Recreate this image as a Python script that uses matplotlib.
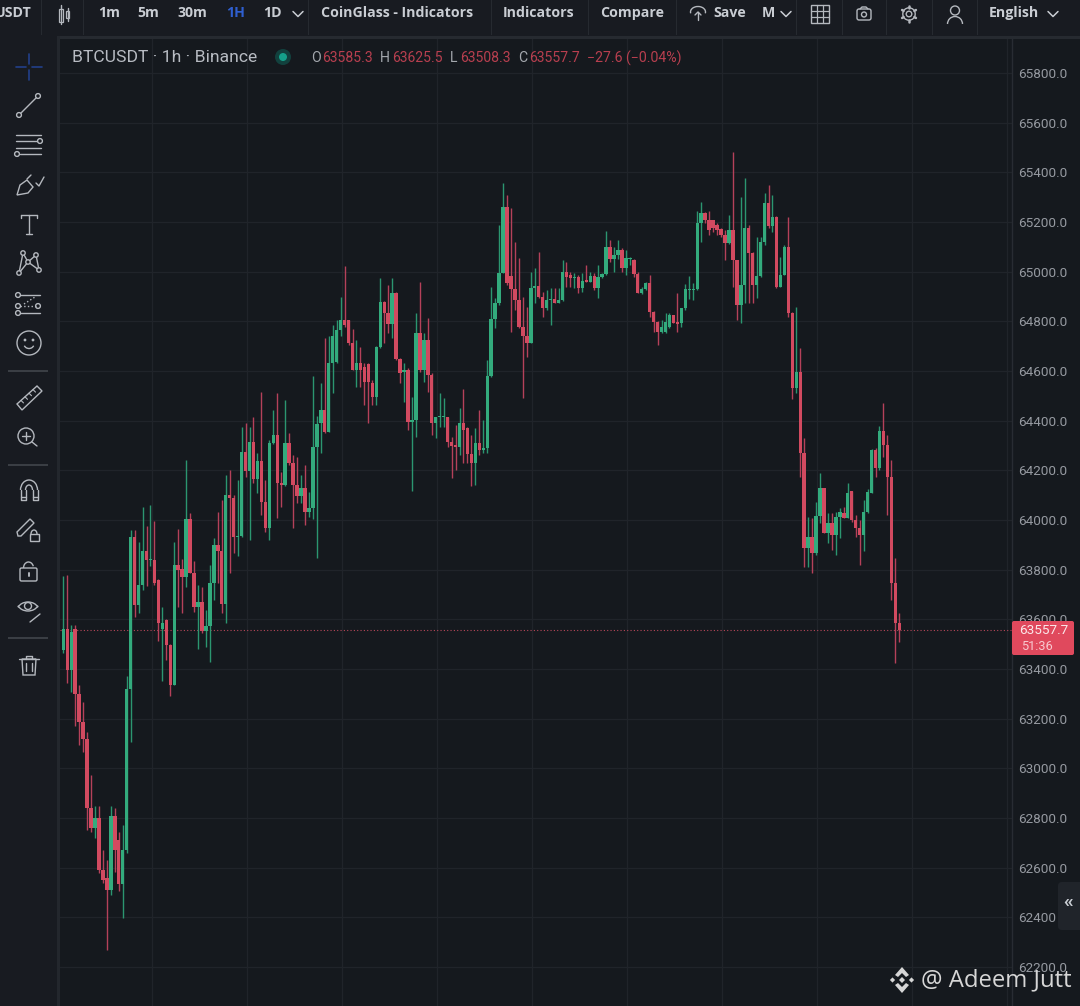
import numpy as np
import matplotlib
matplotlib.use("Agg")
import matplotlib.pyplot as plt
from matplotlib.patches import Rectangle, Circle, Polygon, Arc, FancyBboxPatch

opens = [63477,63560,63396,63560,63300,63188,63117,62839,62759,62799,
 62591,62560,62511,62808,62712,62535,62672,63319,63933,63658,
 63739,63876,63837,63839,63759,63560,63598,63497,63336,63817,
 63803,63772,64006,63786,63651,63668,63555,63575,63745,63900,
 63876,63661,64101,64088,63931,63936,64273,64199,64316,64164,
 64239,64074,63967,64309,64343,64148,64141,64309,64229,64141,
 64097,64128,64034,64047,64296,64390,64443,64356,64634,64638,
 64765,64806,64806,64712,64604,64634,64618,64627,64551,64497,
 64698,64879,64832,64790,64916,64647,64598,64604,64396,64403,
 64752,64604,64725,64584,64390,64414,64414,64414,64316,64302,
 64293,64390,64369,64266,64229,64309,64282,64289,64578,64810,
 64873,64996,65259,64983,64929,64886,64779,64743,64712,64933,
 64943,64897,64853,64885,64888,64872,64886,65000,64986,64973,
 64980,64933,64964,64960,64982,64933,64977,64990,65098,65050,
 65067,65087,65013,65050,65047,64990,64913,64929,64953,64839,
 64799,64758,64758,64778,64825,64792,64792,64852,64925,64925,
 64929,65195,65237,65208,65208,65188,65170,65148,65114,65168,
 65047,64866,64946,65174,65076,64946,64982,65121,65275,65184,
 65221,64940,64986,65101,64832,64530,64597,64269,63886,63933,
 63866,64016,64128,63949,63987,63940,64014,64027,64007,64118,
 64000,63967,63940,64034,64110,64282,64208,64360,64302,64175,
 63745,63585.3]
highs = [63775,63779,63578,63578,63336,63269,63148,62974,62849,62849,
 62672,62631,62849,62839,62745,62772,63370,63960,63960,63913,
 64051,63974,64061,63996,63761,63651,63600,63500,63913,63963,
 63842,64242,64027,63833,63739,63732,63638,63819,63927,64034,
 64081,64182,64202,64101,64161,64373,64390,64374,64415,64269,
 64515,64161,64322,64443,64511,64195,64483,64349,64262,64255,
 64182,64222,64114,64578,64420,64551,64732,64739,64786,64806,
 64900,65023,64806,64768,64725,64698,64631,64631,64564,64701,
 64973,64882,64947,64973,64920,64651,64631,64611,64497,64832,
 64960,64752,64812,64591,64416,64510,64490,64416,64336,64383,
 64450,64527,64376,64343,64370,64443,64403,64645,64940,64893,
 65188,65356,65309,65255,65121,65054,64900,64859,65000,65014,
 65081,64920,64926,64933,64933,64933,65047,65040,65000,64993,
 64986,64993,65027,65000,64993,65027,64993,65165,65127,65101,
 65127,65094,65087,65060,65050,65000,64940,64960,64986,64842,
 64803,64805,64832,64832,64825,64913,64852,64950,64982,64953,
 65245,65282,65241,65245,65208,65195,65174,65168,65228,65483,
 65047,65302,65376,65188,65080,65141,65141,65315,65349,65309,
 65224,65060,65107,65221,64839,64859,64691,64329,64014,64007,
 64074,64191,64130,64027,64027,64034,64047,64054,64151,64118,
 64020,64000,64081,64124,64285,64289,64379,64473,64342,64242,
 63846,63625.5]
lows = [63464,63343,63309,63171,63094,63067,62752,62745,62719,62578,
 62537,62269,62490,62584,62508,62396,62660,63108,63611,63627,
 63719,63735,63813,63739,63511,63350,63437,63292,63335,63651,
 63625,63732,63785,63631,63481,63544,63490,63430,63678,63745,
 63625,63584,63786,63866,63855,63931,64175,63920,64148,64108,
 64021,63953,63920,64306,64007,64051,64135,64222,63967,64068,
 64068,63980,64014,64003,63846,64269,64350,64356,64510,64631,
 64739,64779,64705,64604,64537,64537,64464,64390,64464,64464,
 64692,64712,64752,64732,64645,64551,64477,64363,64115,64336,
 64598,64557,64517,64343,64329,64376,64376,64296,64168,64202,
 64262,64229,64229,64135,64141,64262,64269,64269,64577,64772,
 64866,64994,64947,64759,64846,64772,64490,64658,64711,64873,
 64893,64819,64846,64785,64875,64872,64883,64940,64940,64933,
 64915,64919,64960,64960,64926,64893,64973,64986,65040,65000,
 65050,65000,64986,65027,64980,64913,64910,64926,64819,64758,
 64705,64754,64752,64772,64792,64758,64776,64846,64888,64886,
 64926,65121,65195,65148,65161,65148,65141,65047,65111,64940,
 64805,64792,64872,64872,64872,64893,64980,65107,65174,65161,
 64933,64940,64986,64819,64486,64510,64175,63812,63812,63786,
 63859,63987,63947,63906,63879,63859,63926,64007,64007,63994,
 63933,63819,63877,64027,64108,64175,64202,64255,64020,63678,
 63423,63508.3]
closes = [63560,63396,63551,63300,63188,63117,62839,62759,62799,62591,
 62551,62511,62808,62672,62535,62672,63319,63933,63658,63739,
 63876,63837,63839,63745,63584,63584,63497,63336,63817,63799,
 63772,64006,63786,63651,63668,63555,63575,63745,63900,63876,
 63661,64101,64088,63931,63936,64273,64199,64316,64164,64239,
 64074,63967,64309,64343,64148,64141,64309,64229,64141,64097,
 64128,64034,64047,64296,64387,64443,64356,64634,64739,64765,
 64806,64786,64712,64604,64634,64604,64557,64557,64497,64698,
 64879,64832,64790,64916,64647,64594,64604,64396,64403,64752,
 64604,64725,64584,64390,64414,64418,64418,64316,64298,64293,
 64390,64363,64266,64229,64309,64282,64289,64578,64810,64873,
 64996,65259,64953,64929,64886,64779,64743,64712,64933,64943,
 64897,64853,64885,64889,64875,64886,65000,64977,64973,64980,
 64933,64964,64960,64982,64933,64977,64990,65098,65050,65067,
 65087,65013,65054,65054,64990,64915,64929,64953,64839,64799,
 64758,64776,64799,64825,64792,64790,64852,64929,64929,64929,
 65195,65237,65208,65168,65174,65168,65148,65114,65168,65047,
 64866,64946,65174,65076,64946,64982,65121,65275,65184,65221,
 64940,64986,65101,64832,64530,64597,64269,63886,63933,63866,
 64016,64128,63949,63987,63940,64014,64034,64007,64110,64000,
 63967,63940,64034,64114,64282,64208,64360,64302,64175,63745,
 63584,63557.7]
price_ticks = [65800,65600,65400,65200,65000,64800,64600,64400,64200,64000,
 63800,63600,63400,63200,63000,62800,62600,62400,62200]
price_labels = [f"{v}.0" for v in price_ticks]
price_labels[price_ticks.index(62400)] = "62400"
day_grid = [22.3 + 24*k for k in range(10)]
last_price = 63557.7
interval_buttons = ["1m", "5m", "30m", "1H", "1D"]

BG = "#15191e"
BAR = "#181b21"
GRID = "#20242a"
GREEN = "#33ab7d"
RED = "#d24a60"
WICK_G = "#2b9670"
WICK_R = "#b5415a"
TXT = "#c9cdd3"
ICON = "#b4b8be"
BTN = ["Open Sans", "DejaVu Sans"]

plt.rcParams['font.family'] = ['Roboto', 'DejaVu Sans']
fig = plt.figure(figsize=(10.8, 10.06), dpi=100, facecolor=BG)
W, H = 1080, 1006
L, R, T, B = 60, 1012, 38, 1006
ax = fig.add_axes([L/W, 1-B/H, (R-L)/W, (B-T)/H], facecolor=BG)
step = 3.962
x0 = 63.3
ax.set_xlim((L-x0)/step, (R-x0)/step)
ax.set_ylim(62043, 65941)

ax.set_yticks(price_ticks)
ax.set_yticklabels(price_labels, color="#969aa1", fontsize=9.7)
ax.yaxis.tick_right()
ax.tick_params(axis='y', length=0, pad=4.5)
ax.set_xticks(day_grid)
ax.tick_params(axis='x', length=0, labelbottom=False)
ax.grid(True, color=GRID, lw=0.9)
ax.set_axisbelow(True)
for s in ax.spines.values():
    s.set_visible(False)
ax.spines['right'].set_visible(True)
ax.spines['right'].set_color("#282c33")
ax.spines['right'].set_linewidth(1)

idx = np.arange(len(opens))
o, h, l, c = map(np.array, (opens, highs, lows, closes))
up = c >= o
ax.vlines(idx[up], l[up], h[up], color=WICK_G, lw=1.0, zorder=2)
ax.vlines(idx[~up], l[~up], h[~up], color=WICK_R, lw=1.0, zorder=2)
body = np.maximum(np.abs(c-o), 6)
for i in idx:
    ax.bar(i, body[i], bottom=min(o[i], c[i]), width=0.86,
           color=GREEN if up[i] else RED, lw=0, zorder=3)
ax.axhline(last_price, color="#b8475a", lw=0.8, ls=(0, (1, 2)), zorder=1)

# --- overlay in screen pixels for the application chrome ---
ui = fig.add_axes([0, 0, 1, 1], facecolor="none")
ui.set_xlim(0, W); ui.set_ylim(H, 0); ui.axis("off")

def rect(x, y, w, h, col, z=1):
    ui.add_patch(Rectangle((x, y), w, h, fc=col, ec="none", zorder=z))
def line(xs, ys, col=ICON, lw=1.0, z=5, **k):
    ui.plot(xs, ys, color=col, lw=lw, zorder=z, solid_capstyle="round", **k)
def circ(x, y, r, col=ICON, lw=1.0, fc="none", z=5):
    ui.add_patch(Circle((x, y), r, fc=fc, ec=col, lw=lw, zorder=z))
def text(x, y, s, col=TXT, size=10, weight="normal", ha="left", z=6, **k):
    ui.text(x, y, s, color=col, fontsize=size, fontweight=weight, ha=ha,
            va="center", zorder=z, **k)
def btn(x, s, col=TXT, ha="left"):
    text(x, 13, s, col=col, size=10.2, weight="bold", ha=ha, family=BTN)

rect(0, 0, W, 36, BAR)
rect(0, 36, W, 3, "#262a30")
rect(0, 36, 57, 970, BAR)
rect(57, 36, 3, 970, "#23272d")

for sx in [41, 83, 308, 491, 588, 676, 796, 842, 886, 932, 977]:
    rect(sx, 0, 1, 35, "#262a30", 2)

btn(31, "USDT", ha="right")
bx = [98, 137, 177, 226, 263]
for xx, s in zip(bx, interval_buttons):
    btn(xx, s, col="#2f5fd0" if s == "1H" else TXT)
def chevron(cx, cy, col=TXT):
    line([cx-5, cx, cx+5], [cy-2.5, cy+2.5, cy-2.5], col=col, lw=1.1)
chevron(298, 14)
btn(321, "CoinGlass - Indicators")
btn(503, "Indicators")
btn(600, "Compare")
btn(713, "Save")
btn(762, "M")
chevron(786, 14)
btn(989, "English")
chevron(1053, 14)

# candle glyph
ui.add_patch(Rectangle((59, 9), 4, 13, fc="none", ec=ICON, lw=0.9, zorder=5))
ui.add_patch(Rectangle((66, 11), 3, 7, fc="none", ec=ICON, lw=0.9, zorder=5))
line([61, 61], [5, 24]); line([67.5, 67.5], [8, 21])
# cloud
ui.add_patch(Arc((698, 12), 15, 11, theta1=170, theta2=370, color=ICON, lw=1, zorder=5))
line([698, 698], [12, 20]); line([695, 698, 701], [15, 12, 15])
# grid
ui.add_patch(Rectangle((811, 5), 18, 18, fc="none", ec=ICON, lw=1, zorder=5))
for d in (6, 12):
    line([811+d, 811+d], [5, 23], lw=0.9); line([811, 829], [5+d, 5+d], lw=0.9)
# camera
ui.add_patch(FancyBboxPatch((857, 9), 14, 11, boxstyle="round,pad=0,rounding_size=2", fc="none", ec=ICON, lw=1, zorder=5))
circ(864, 14.5, 2.5); line([860, 862, 866, 868], [9, 7, 7, 9])
# gear
circ(909, 14, 2.8); circ(909, 14, 6.2)
for a in np.arange(30, 390, 60):
    r = np.radians(a)
    line([909+6.2*np.cos(r), 909+8*np.cos(r)], [14+6.2*np.sin(r), 14+8*np.sin(r)], lw=1.8)
# user
circ(955, 10.5, 4.5)
ui.add_patch(Arc((955, 24), 15, 15, theta1=180, theta2=360, color=ICON, lw=1, zorder=5))

# legend
text(72, 57, "BTCUSDT · 1h · Binance", col="#b7bbc2", size=12.6)
circ(283, 57, 8, col="none", fc="#12413e", lw=0)
circ(283, 57, 4, col="none", fc="#15a08a", lw=0)
LR = "#b83f4f"
for xx, bxx, a, b in [(311, 322, "O", "63585.3"), (380, 392, "H", "63625.5"),
                      (450, 460, "L", "63508.3"), (518, 529, "C", "63557.7")]:
    text(xx, 58, a, col="#a4a8ae", size=10.1)
    text(bxx, 58, b, col=LR, size=10.1)
text(587, 58, "−27.6 (−0.04%)", col=LR, size=10.2)

# tool icons
BLUE = "#22408a"
for a, b in [((16, 26), (67, 67)), ((32, 42), (67, 67)), ((29, 29), (54, 64)), ((29, 29), (70, 80))]:
    line(a, b, col=BLUE, lw=1.2)
# line tool
line([21, 36], [113, 98]); circ(19, 115, 2.4); circ(38, 96, 2.4)
# parallel
line([16, 41], [135, 135]); line([16, 37], [141, 141]); circ(40, 141, 2.4)
line([16, 41], [148, 148]); line([20, 41], [154, 154]); circ(17, 154, 2.4)
# brush
ui.add_patch(Polygon([[17, 195], [20, 185], [27, 180], [33, 187], [28, 193]], closed=True, fc="none", ec=ICON, lw=1, zorder=5))
line([27, 31], [179, 175]); line([36, 39, 44], [183, 186, 177])
# T
line([21, 37], [215, 215]); line([29, 29], [215, 234]); line([26, 32], [234, 234]); line([21, 21], [215, 218]); line([37, 37], [215, 218])
# pattern
pts = [(19, 273), (23, 253), (28, 262), (36, 255), (39, 270)]
line([p[0] for p in pts], [p[1] for p in pts])
line([19, 28, 39], [273, 262, 270])
for p in pts:
    circ(p[0], p[1], 2.2, fc=BAR)
# fib
line([20, 40], [295, 295]); circ(18, 295, 2.4)
line([20, 36], [306, 306], ls=":"); circ(18, 306, 2.4); circ(38, 306, 2.4)
line([20, 40], [313, 313]); circ(18, 313, 2.4)
line([24, 35], [304, 297], ls=":")
# smiley
circ(29, 343, 12); circ(25, 340, 0.7, fc=ICON); circ(33, 340, 0.7, fc=ICON)
ui.add_patch(Arc((29, 344), 10, 9, theta1=20, theta2=160, color=ICON, lw=1, zorder=5))
for yy in (370, 464, 637):
    rect(8, yy, 40, 1.5, "#3a3e44", 3)
# ruler
ui.add_patch(Polygon([[17, 404], [37, 386], [42, 391], [22, 410]], closed=True, fc="none", ec=ICON, lw=1, zorder=5))
for t in (0.2, 0.4, 0.6, 0.8):
    xa, ya = 17+20*t, 404-18*t
    line([xa, xa+2.5], [ya, ya+2.5], lw=0.8)
# zoom
circ(26, 436, 8); line([22, 30], [436, 436]); line([26, 26], [432, 440]); line([32, 37], [442, 446])
# magnet
ui.add_patch(Arc((29, 490), 17, 20, theta1=180, theta2=360, color=ICON, lw=1, zorder=5))
ui.add_patch(Arc((29, 490), 7, 10, theta1=180, theta2=360, color=ICON, lw=1, zorder=5))
line([20.5, 20.5, 25.5, 25.5], [490, 500, 500, 490]); line([32.5, 32.5, 37.5, 37.5], [490, 500, 500, 490]); line([20.5, 25.5], [497, 497]); line([32.5, 37.5], [497, 497])
# pencil + lock
ui.add_patch(Polygon([[18, 536], [17, 532], [30, 519], [34, 523], [21, 536]], closed=True, fc="none", ec=ICON, lw=1, zorder=5))
ui.add_patch(Rectangle((30, 534), 9, 7, fc=BAR, ec=ICON, lw=1, zorder=5))
ui.add_patch(Arc((34, 534), 6, 8, theta1=180, theta2=360, color=ICON, lw=1, zorder=5))
# lock
ui.add_patch(FancyBboxPatch((20, 568), 17, 13, boxstyle="round,pad=0,rounding_size=1.5", fc="none", ec=ICON, lw=1, zorder=5))
ui.add_patch(Arc((28.5, 568), 10, 12, theta1=180, theta2=340, color=ICON, lw=1, zorder=5))
line([28.5, 28.5], [573, 576], lw=1.4)
# eye
ui.add_patch(Arc((28, 611), 22, 18, theta1=200, theta2=340, color=ICON, lw=1, zorder=5))
ui.add_patch(Arc((28, 602), 22, 18, theta1=20, theta2=160, color=ICON, lw=1, zorder=5))
circ(28, 606, 3.5)
line([30, 35, 40], [622, 618, 614], lw=1)
# trash
ui.add_patch(Polygon([[22, 659], [36, 659], [35, 675], [23, 675]], closed=True, fc="none", ec=ICON, lw=1, zorder=5))
line([19, 39], [659, 659]); line([26, 26, 32, 32], [659, 656, 656, 659]); line([26, 26], [663, 671]); line([32, 32], [663, 671])

# price tag
ui.add_patch(FancyBboxPatch((1012, 621), 62, 34, boxstyle="round,pad=0,rounding_size=2", fc="#e0495d", ec="none", zorder=4))
text(1044, 630, "63557.7", col="#fbe9eb", size=9.7, ha="center")
text(1037, 646, "51:36", col="#f8c8cf", size=9.2, ha="center")

# collapse panel
ui.add_patch(FancyBboxPatch((1058, 882), 30, 48, boxstyle="round,pad=0,rounding_size=4", fc="#20242a", ec="none", zorder=4))
text(1068.5, 902, "«", col="#c8ccd2", size=14, ha="center", weight="bold")

# watermark
WM = "#d6d6d6"
for dx, dy, s in [(-9.5, 0, 2.6), (9.5, 0, 2.6)]:
    ui.add_patch(Polygon([[902+dx-s, 980+dy], [902+dx, 980+dy-s], [902+dx+s, 980+dy], [902+dx, 980+dy+s]], fc=WM, ec="none", zorder=7))
ui.add_patch(Polygon([[899, 980], [902, 977], [905, 980], [902, 983]], fc=WM, ec="none", zorder=7))
ui.add_patch(Polygon([[895, 975], [902, 967], [909, 975], [906, 977], [902, 973], [898, 977]], fc=WM, ec="none", zorder=7))
ui.add_patch(Polygon([[895, 985], [898, 983], [902, 987], [906, 983], [909, 985], [902, 993]], fc=WM, ec="none", zorder=7))
text(921, 980, "@ Adeem Jutt", col=WM, size=17.2, z=7, family=["Open Sans", "DejaVu Sans"])

fig.savefig("out.png", dpi=100, facecolor=BG)
